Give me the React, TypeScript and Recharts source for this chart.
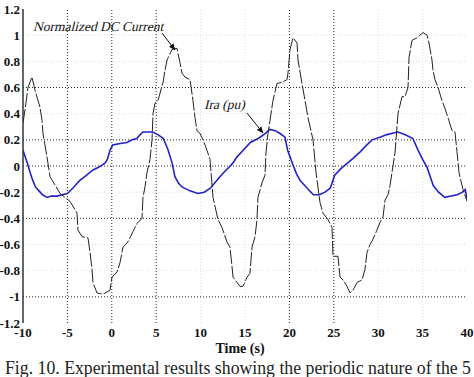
import { LineChart, Line, XAxis, YAxis, ReferenceLine } from 'recharts';

// Normalized DC current (black, stair-stepped)
const dcTime = [
  -10, -9.77, -9.44, -8.99, -8.65, -8.09, -7.86, -7.75, -7.3, -6.96, -5.83, -4.71, -3.92, -3.81,
  -3.36, -2.68, -2.45, -2.23, -2.12, -1.67, -0.99, -0.2, 0.02, 0.59, 0.92, 1.26, 1.82, 2.39, 2.84,
  3.4, 3.51, 3.74, 3.96, 4.3, 4.53, 4.64, 4.86, 5.2, 5.77, 5.99, 6.22, 6.78, 7.34, 7.46, 7.68,
  7.91, 8.24, 8.81, 9.14, 9.37, 9.59, 9.93, 10.27, 10.72, 11.06, 11.4, 11.96, 12.41, 12.97, 13.31,
  13.54, 13.65, 14.1, 14.44, 14.77, 15.23, 15.56, 15.79, 16.13, 16.35, 16.46, 16.91, 17.25, 17.36,
  17.59, 17.82, 18.15, 18.6, 19.17, 19.73, 19.84, 20.07, 20.41, 20.86, 20.97, 21.42, 21.76, 22.09,
  22.66, 23.0, 23.45, 23.78, 24.35, 24.8, 24.91, 25.47, 25.7, 26.04, 26.49, 26.82, 27.16, 27.61,
  28.18, 28.51, 28.74, 29.08, 29.41, 29.86, 30.2, 30.54, 30.77, 31.1, 31.33, 31.55, 31.89, 32.23,
  32.68, 33.02, 33.36, 33.47, 33.81, 34.37, 35.05, 35.5, 35.72, 36.06, 36.17, 36.4, 36.74, 37.18,
  37.52, 37.86, 38.31, 38.65, 38.87, 39.1, 39.55, 40,
];
const dcValue = [
  0.33, 0.43, 0.6, 0.68, 0.58, 0.45, 0.35, 0.25, 0.07, -0.08, -0.21, -0.27, -0.36, -0.49,
  -0.54, -0.55, -0.66, -0.79, -0.89, -0.97, -0.98, -0.95, -0.85, -0.81, -0.74, -0.62, -0.58, -0.5, -0.44,
  -0.4, -0.24, -0.16, -0.05, 0.05, 0.2, 0.4, 0.48, 0.5, 0.64, 0.73, 0.81, 0.89, 0.9, 0.86, 0.79,
  0.71, 0.68, 0.66, 0.5, 0.37, 0.27, 0.25, 0.2, 0.12, 0.05, -0.24, -0.41, -0.47, -0.58, -0.62,
  -0.77, -0.85, -0.89, -0.92, -0.92, -0.85, -0.82, -0.62, -0.54, -0.41, -0.24, -0.13, -0.07, 0.1,
  0.25, 0.35, 0.5, 0.63, 0.64, 0.66, 0.71, 0.89, 0.98, 0.94, 0.81, 0.63, 0.5, 0.37,
  0.2, -0.05, -0.28, -0.36, -0.41, -0.47, -0.69, -0.69, -0.85, -0.87, -0.92, -0.97, -0.95, -0.89,
  -0.87, -0.79, -0.66, -0.6, -0.56, -0.49, -0.43, -0.39, -0.26, -0.22, -0.15, -0.05, 0.1, 0.4,
  0.53, 0.53, 0.6, 0.83, 0.96, 0.98, 1.02, 1.0, 0.94, 0.81, 0.73, 0.66, 0.6, 0.5,
  0.44, 0.37, 0.27, 0.26, 0.11, -0.05, -0.18, -0.27,
];

// Ira (pu) (blue)
const iraTime = [
  -10, -9.8, -9.5, -9.2, -8.9, -8.6, -8.2, -7.8, -7.3, -6.8, -6.2, -5.6, -5.0, -4.4, -4.0, -3.6,
  -3.0, -2.5, -2.1, -1.5, -0.8, -0.5, -0.2, 0.1, 0.8, 1.7, 2.3, 2.8, 3.2, 3.5, 4.0, 4.6, 5.2, 5.8,
  6.3, 6.8, 7.1, 7.5, 7.9, 8.8, 9.7, 10.4, 11.1, 11.7, 12.2, 12.6, 13.2, 13.6, 14.1, 14.8, 15.6, 16.2, 16.7,
  17.3, 17.8, 18.4, 18.9, 19.5, 19.8, 20.4, 20.8, 21.2, 22.0, 22.7, 23.4, 24.0, 24.6, 25.1, 25.8,
  26.5, 27.2, 28.0, 28.7, 29.3, 30.2, 31.0, 31.6, 32.2, 33.0, 33.9, 34.5, 35.0, 35.5, 36.2, 36.8,
  37.5, 38.2, 38.9, 39.5, 39.8, 40,
];
const iraValue = [
  0.12, 0.08, 0.02, -0.05, -0.11, -0.16, -0.19, -0.22, -0.24, -0.23, -0.23, -0.22, -0.21, -0.17, -0.14, -0.11,
  -0.08, -0.05, -0.03, -0.01, 0.02, 0.05, 0.12, 0.16, 0.17, 0.18, 0.2, 0.21, 0.24, 0.26, 0.26, 0.26, 0.24, 0.21,
  0.13, 0.02, -0.08, -0.13, -0.16, -0.19, -0.21, -0.2, -0.17, -0.12, -0.08, -0.05, -0.01, 0.02, 0.07, 0.12, 0.18, 0.2, 0.22,
  0.25, 0.28, 0.27, 0.25, 0.22, 0.12, 0.01, -0.06, -0.11, -0.17, -0.22, -0.22, -0.2, -0.17, -0.07, -0.02,
  0.02, 0.06, 0.11, 0.16, 0.2, 0.22, 0.24, 0.25, 0.26, 0.24, 0.21, 0.12, 0.05, -0.01, -0.15, -0.2,
  -0.24, -0.23, -0.22, -0.2, -0.18, -0.25,
];

const xTicks = [-10, -5, 0, 5, 10, 15, 20, 25, 30, 35, 40];
const yTicks = [-1.2, -1, -0.8, -0.6, -0.4, -0.2, 0, 0.2, 0.4, 0.6, 0.8, 1, 1.2];
// grid lines that survived the scan clearly vs. faint ones
const strongX = [-5, 0, 5, 20, 25];
const faintX = [10, 15, 30, 35];
const strongY = [0.6, 0.2, 0, -0.4, -1];
const faintY = [0.8, 0.4, -0.2, -0.6, -0.8, 1];

const dcData = dcTime.map((t, i) => ({ t, v: dcValue[i] }));
const iraData = iraTime.map((t, i) => ({ t, v: iraValue[i] }));

const serif = 'Liberation Serif, DejaVu Serif, Times New Roman, serif';
const tickStyle = { fill: '#111', fontSize: 13, fontWeight: 700, fontFamily: serif };

// serif italic faked with a skew, the italic face isn't always there
const Italic = ({ x, y, children }: { x: number; y: number; children: string }) => (
  <g transform={`translate(${x},${y}) skewX(-14)`}>
    <text x={0} y={0} fontSize={13.5} fill="#111" fontFamily={serif}>
      {children}
    </text>
  </g>
);

export default function App() {
  return (
    <div style={{ position: 'absolute', left: 0, top: 0, width: 474, height: 377, background: '#fff', overflow: 'hidden', fontFamily: serif }}>
      <LineChart width={474} height={377} margin={{ top: 9, right: 7, left: 0, bottom: 24 }} style={{ fontFamily: serif }}>
        <XAxis
          dataKey="t"
          type="number"
          domain={[-10, 40]}
          ticks={xTicks}
          allowDataOverflow
          axisLine={false}
          tickLine={false}
          tickSize={0}
          tickMargin={5}
          height={30}
          tick={tickStyle}
        />
        <YAxis
          yAxisId="l"
          type="number"
          domain={[-1.2, 1.2]}
          ticks={yTicks}
          interval={0}
          width={23}
          axisLine={{ stroke: '#333', strokeWidth: 1.5 }}
          tickLine={false}
          tickSize={0}
          tickMargin={3}
          tick={tickStyle}
          tickFormatter={(v: number) => String(v)}
        />
        <YAxis
          yAxisId="r"
          orientation="right"
          type="number"
          domain={[-1.2, 1.2]}
          ticks={yTicks}
          width={0}
          mirror
          tick={false}
          tickSize={4}
          axisLine={{ stroke: '#888', strokeWidth: 1.5 }}
          tickLine={{ stroke: '#666' }}
        />
        {faintX.map((x) => (
          <ReferenceLine key={'fx' + x} yAxisId="l" x={x} stroke="#ddd" strokeDasharray="1 2" />
        ))}
        {faintY.map((y) => (
          <ReferenceLine key={'fy' + y} yAxisId="l" y={y} stroke="#ddd" strokeDasharray="1 2" />
        ))}
        {strongX.map((x) => (
          <ReferenceLine key={'sx' + x} yAxisId="l" x={x} stroke="#222" strokeDasharray="1 2" />
        ))}
        {strongY.map((y) => (
          <ReferenceLine key={'sy' + y} yAxisId="l" y={y} stroke="#222" strokeDasharray="1 2" />
        ))}
        <Line
          yAxisId="l"
          data={iraData}
          dataKey="v"
          type="linear"
          stroke="#2222c8"
          strokeWidth={1.6}
          dot={false}
          isAnimationActive={false}
        />
        <Line
          yAxisId="l"
          data={dcData}
          dataKey="v"
          type="linear"
          stroke="#222"
          strokeWidth={1}
          strokeDasharray="14 2"
          dot={false}
          isAnimationActive={false}
        />
      </LineChart>
      <svg width={474} height={377} style={{ position: 'absolute', left: 0, top: 0, pointerEvents: 'none', fontFamily: serif }}>
        <defs>
          <marker id="ah" viewBox="0 0 10 10" refX="9" refY="5" markerWidth="7" markerHeight="7" orient="auto">
            <path d="M0,1 L10,5 L0,9 z" fill="#111" />
          </marker>
        </defs>
        <Italic x={33} y={31}>Normalized DC Current</Italic>
        <line x1={162} y1={33} x2={175} y2={50} stroke="#111" strokeWidth={1} markerEnd="url(#ah)" />
        <Italic x={204} y={109}>Ira (pu)</Italic>
        <line x1={247} y1={113} x2={263} y2={133} stroke="#111" strokeWidth={1} markerEnd="url(#ah)" />
        <text x={240} y={353} textAnchor="middle" fontWeight={700} fontSize={14} fill="#111">
          Time (s)
        </text>
        <text x={5} y={374} fontSize={18} fill="#222" textLength={466} lengthAdjust="spacingAndGlyphs">
          Fig. 10. Experimental results showing the periodic nature of the 5
        </text>
      </svg>
    </div>
  );
}
